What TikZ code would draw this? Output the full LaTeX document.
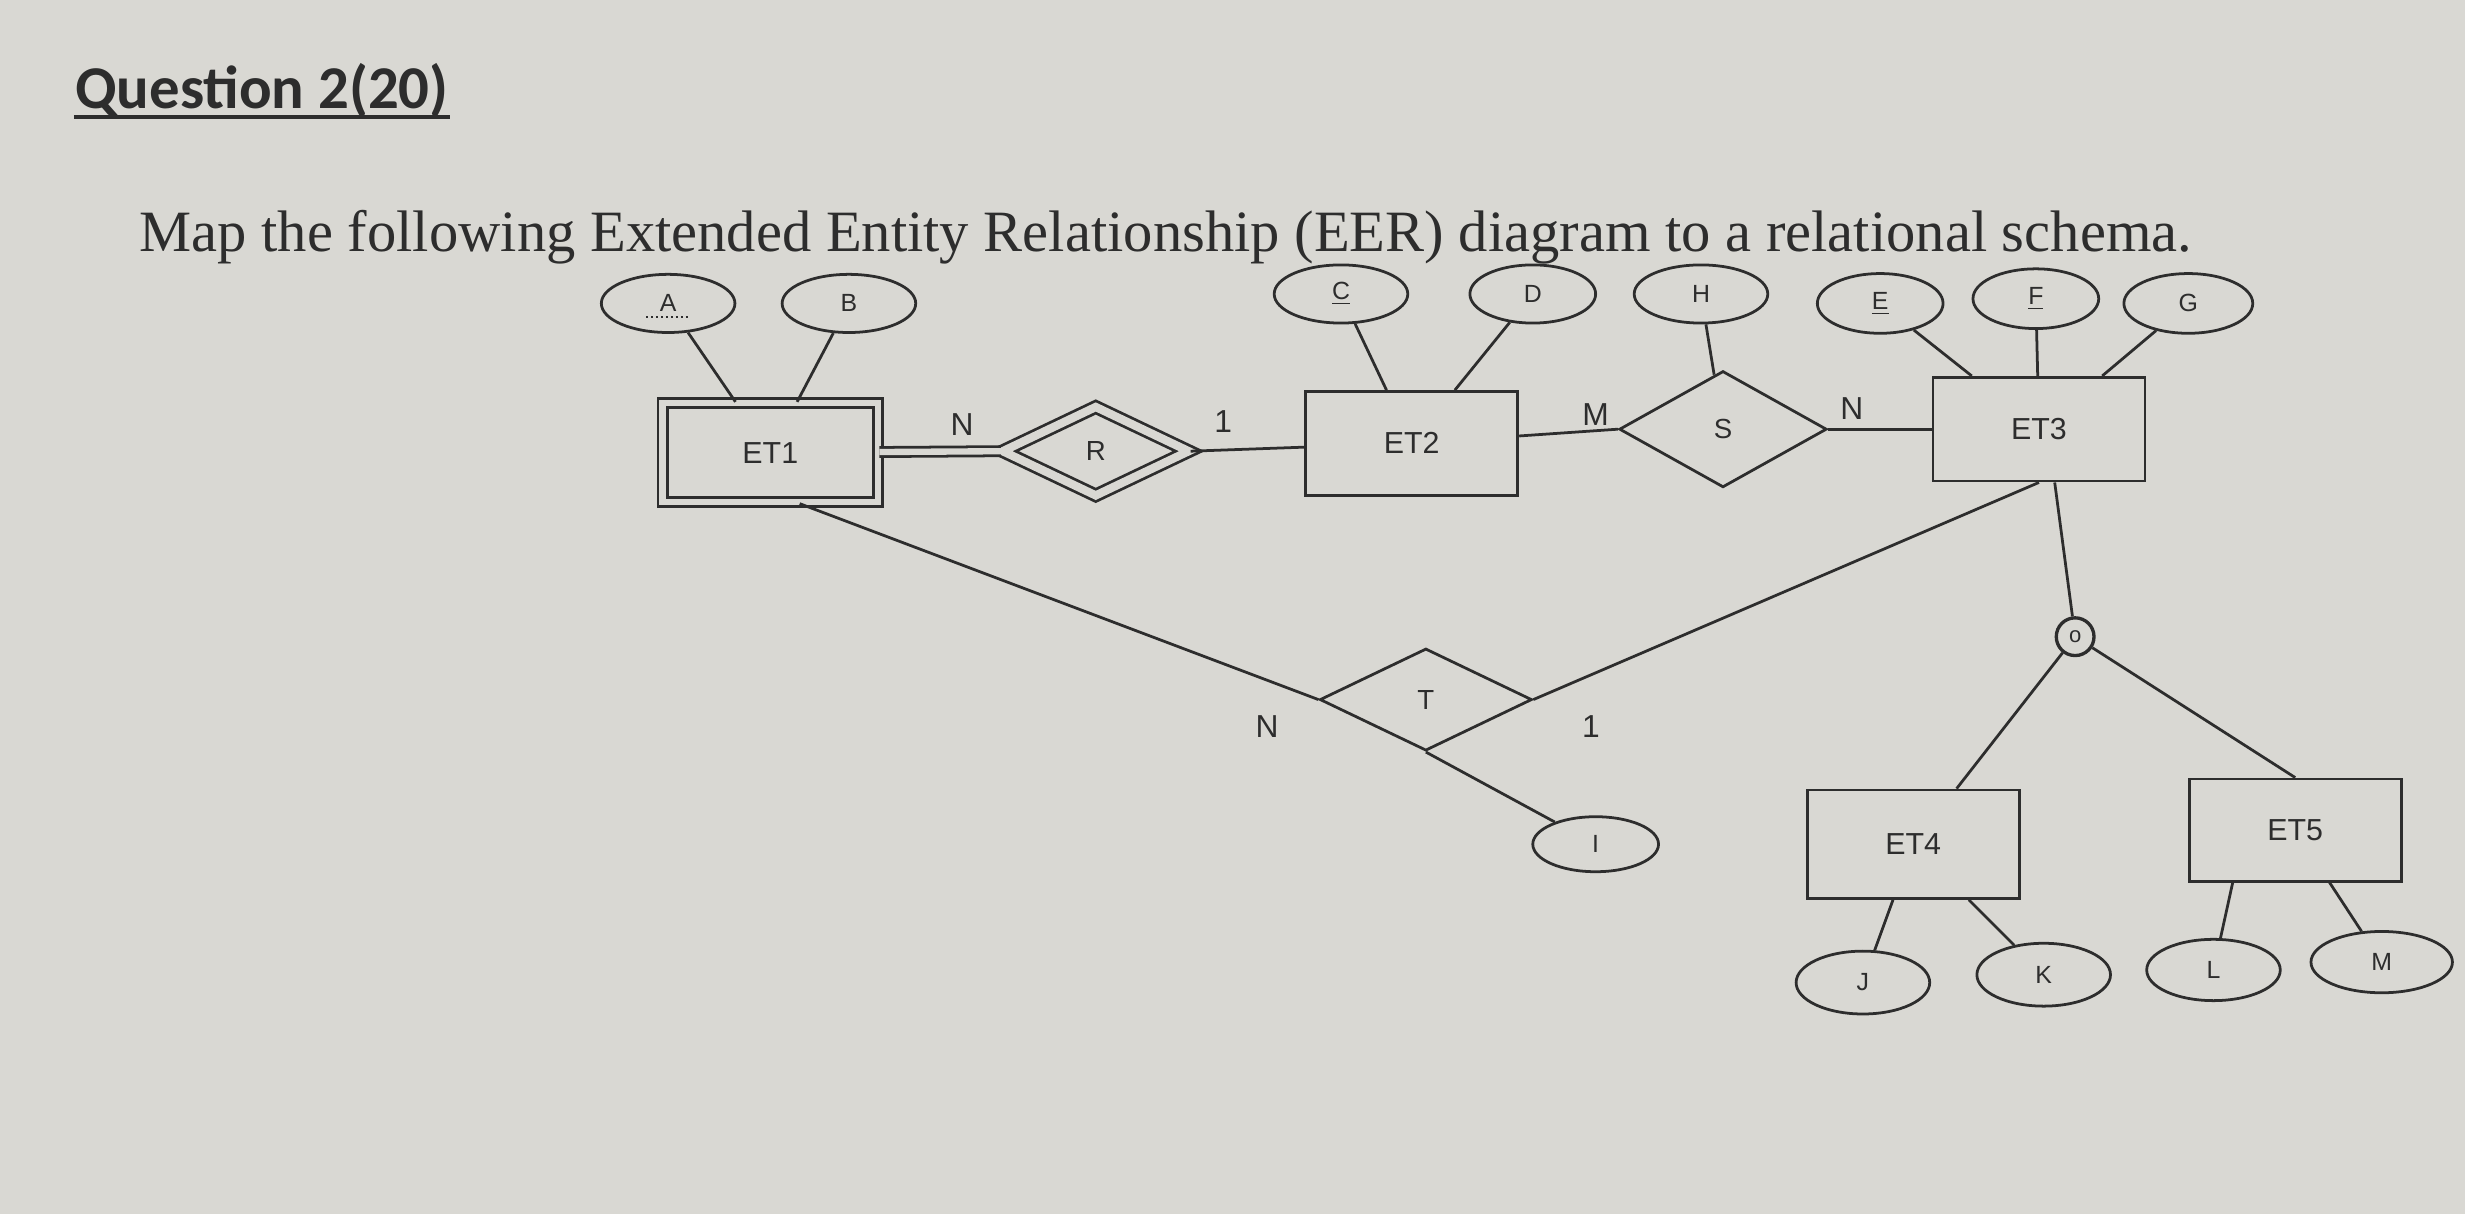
\documentclass[tikz,border=0pt]{standalone}
\usepackage{fontspec}
\setmainfont{Liberation Sans}
\newfontfamily\headfont{Carlito}
\newfontfamily\bodyfont{Liberation Serif}
\usetikzlibrary{shapes.geometric}

\definecolor{paper}{RGB}{217,216,211}
\definecolor{ink}{RGB}{45,45,45}

\tikzset{
  entity/.style={draw, rectangle, minimum width=2.7cm, minimum height=1.32cm, inner sep=0pt, font=\fontsize{11}{13}\selectfont},
  weakentity/.style={entity, minimum width=2.74cm, minimum height=1.26cm, double=paper, double distance=2.3pt},
  rel/.style={draw, diamond, inner sep=0pt, font=\fontsize{10}{12}\selectfont},
  attr/.style={draw, ellipse, minimum width=1.7cm, minimum height=0.74cm, inner sep=0pt, font=\fontsize{9}{11}\selectfont},
  card/.style={font=\fontsize{11.5}{13}\selectfont}
}

\begin{document}
\begin{tikzpicture}[x=0.02cm, y=-0.02cm, color=ink, line width=1pt]
  \fill[paper] (0,0) rectangle (1568,772);

  % heading
  \node[anchor=base west, inner sep=0pt, font=\headfont\bfseries\fontsize{22}{26}\selectfont] (title) at (47,69) {Question 2(20)};
  \draw[line width=1.4pt] ([yshift=-3pt]title.base west) -- ([yshift=-3pt]title.base east);
  \node[anchor=base west, inner sep=0pt, font=\bodyfont\fontsize{21.2}{25}\selectfont] (task) at (88,160) {Map the following Extended Entity Relationship (EER) diagram to a relational schema.};

  % entities
  \node[weakentity] (ET1) at (490,288) {ET1};
  \node[entity] (ET2) at (898,282) {ET2};
  \node[entity] (ET3) at (1297,273) {ET3};
  \node[entity, minimum height=1.38cm] (ET4) at (1217,537) {ET4};
  \node[entity, minimum height=1.3cm] (ET5) at (1460,528) {ET5};

  % relationships
  \node[rel, minimum width=2.38cm, minimum height=1.14cm, double=paper, double distance=3pt] (R) at (697,287) {R};
  \node[rel, minimum width=2.64cm, minimum height=1.48cm] (S) at (1096,273) {S};
  \node[rel, minimum width=2.7cm, minimum height=1.3cm] (T) at (907,445) {T};

  % attributes
  \node[attr] (A) at (425,193) {A};
  \node[attr] (B) at (540,193) {B};
  \node[attr] (C) at (853,187) {\underline{C}};
  \node[attr, minimum width=1.6cm] (D) at (975,187) {D};
  \node[attr] (H) at (1082,187) {H};
  \node[attr, minimum width=1.6cm, minimum height=0.76cm] (E) at (1196,193) {\underline{E}};
  \node[attr, minimum width=1.6cm, minimum height=0.76cm] (F) at (1295,190) {\underline{F}};
  \node[attr, minimum width=1.64cm, minimum height=0.76cm] (G) at (1392,193) {G};
  \node[attr, minimum width=1.6cm, minimum height=0.7cm] (I) at (1015,537) {I};
  \node[attr, minimum height=0.8cm] (J) at (1185,625) {J};
  \node[attr, minimum height=0.8cm] (K) at (1300,620) {K};
  \node[attr, minimum height=0.78cm] (L) at (1408,617) {L};
  \node[attr, minimum width=1.8cm, minimum height=0.78cm] (M) at (1515,612) {M};
  \draw[densely dotted, line width=0.8pt] ([xshift=-0.28cm,yshift=-1.8pt]A.base) -- ([xshift=0.28cm,yshift=-1.8pt]A.base);

  % overlap circle
  \node[draw, circle, minimum size=0.48cm, inner sep=0pt, line width=1.2pt, font=\fontsize{8}{9}\selectfont] (ovl) at (1320,405) {o};

  % cardinalities
  \node[card] (cR1) at (612,270) {N};
  \node[card] (cR2) at (778,268) {1};
  \node[card] (cS1) at (1015,264) {M};
  \node[card] (cS2) at (1178,260) {N};
  \node[card] (cT1) at (806,462) {N};
  \node[card] (cT2) at (1012,462) {1};

  % attribute links
  \draw (A) -- (ET1);
  \draw (B) -- (ET1);
  \draw (C) -- (ET2);
  \draw (D) -- (ET2);
  \draw (H) -- (S);
  \draw (E) -- (ET3);
  \draw (F) -- (ET3);
  \draw (G) -- (ET3);
  \draw (T.south) -- (I);
  \draw (ET4) -- (J);
  \draw (ET4) -- (K);
  \draw (ET5.-140) -- (L);
  \draw (ET5) -- (M);

  % relationship links
  \draw[double=paper, double distance=2.3pt] (ET1) -- (R.west);
  \draw (R.east) -- (ET2);
  \draw (ET2) -- (S.west);
  \draw (S.east) -- (ET3);
  \draw (ET1.-60) -- (T.west);
  \draw (T.east) -- (ET3.south);

  % specialization
  \draw ([xshift=0.2cm]ET3.south) -- (ovl);
  \draw (ovl) -- (ET4);
  \draw (ovl) -- (ET5.north);
\end{tikzpicture}
\end{document}
